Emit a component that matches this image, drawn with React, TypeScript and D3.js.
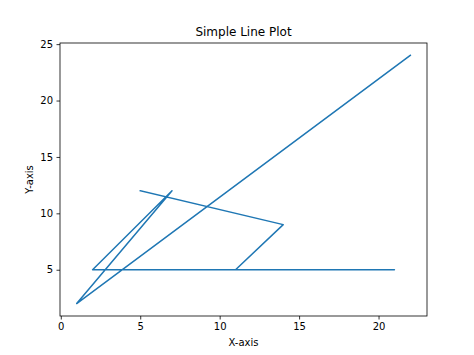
import React, { useEffect, useRef } from "react";
import * as d3 from "d3";

const xValues = [5, 14, 11, 21, 2, 7, 1, 22];
const yValues = [12, 9, 5, 5, 5, 12, 2, 24];
const xTicks = [0, 5, 10, 15, 20];
const yTicks = [5, 10, 15, 20, 25];

const W = 474;
const H = 355;
const M = { left: 60, right: 47, top: 43, bottom: 39 };

export default function App() {
  const ref = useRef<SVGSVGElement>(null);

  useEffect(() => {
    const svg = d3.select(ref.current);
    svg.selectAll("*").remove();
    const font = "DejaVu Sans, sans-serif";

    const [x0, x1] = d3.extent(xValues) as [number, number];
    const [y0, y1] = d3.extent(yValues) as [number, number];
    const xPad = (x1 - x0) * 0.05;
    const yPad = (y1 - y0) * 0.05;

    const x = d3.scaleLinear().domain([x0 - xPad, x1 + xPad]).range([M.left, W - M.right]);
    const y = d3.scaleLinear().domain([y0 - yPad, y1 + yPad]).range([H - M.bottom, M.top]);

    const pts = xValues.map((v, i) => [v, yValues[i]] as [number, number]);
    const line = d3.line<[number, number]>().x(d => x(d[0])).y(d => y(d[1]));

    svg.append("path")
      .attr("d", line(pts))
      .attr("fill", "none")
      .attr("stroke", "#1f77b4")
      .attr("stroke-width", 1.5)
      .attr("stroke-linejoin", "round")
      .attr("stroke-linecap", "square");

    const xAxis = svg.append("g")
      .attr("transform", `translate(0,${H - M.bottom})`)
      .call(d3.axisBottom(x).tickValues(xTicks).tickSize(3.5).tickPadding(3.5).tickFormat(d3.format("d")));
    const yAxis = svg.append("g")
      .attr("transform", `translate(${M.left},0)`)
      .call(d3.axisLeft(y).tickValues(yTicks).tickSize(3.5).tickPadding(3.5).tickFormat(d3.format("d")));

    [xAxis, yAxis].forEach(g => {
      g.select(".domain").remove();
      g.selectAll("line").attr("stroke", "#000").attr("stroke-width", 0.8);
      g.selectAll("text").attr("font-family", font).attr("font-size", 10).attr("fill", "#000");
    });

    svg.append("rect")
      .attr("x", M.left)
      .attr("y", M.top)
      .attr("width", W - M.left - M.right)
      .attr("height", H - M.top - M.bottom)
      .attr("fill", "none")
      .attr("stroke", "#000")
      .attr("stroke-width", 0.8);

    svg.append("text")
      .attr("x", (M.left + W - M.right) / 2)
      .attr("y", M.top - 7)
      .attr("text-anchor", "middle")
      .attr("font-family", font)
      .attr("font-size", 12)
      .text("Simple Line Plot");

    svg.append("text")
      .attr("x", (M.left + W - M.right) / 2)
      .attr("y", H - 9)
      .attr("text-anchor", "middle")
      .attr("font-family", font)
      .attr("font-size", 10)
      .text("X-axis");

    svg.append("text")
      .attr("transform", `translate(33,${(M.top + H - M.bottom) / 2}) rotate(-90)`)
      .attr("text-anchor", "middle")
      .attr("font-family", font)
      .attr("font-size", 10)
      .text("Y-axis");
  }, []);

  return (
    <svg ref={ref} width={W} height={H} style={{ position: "absolute", left: 0, top: 0, background: "#fff" }} />
  );
}
